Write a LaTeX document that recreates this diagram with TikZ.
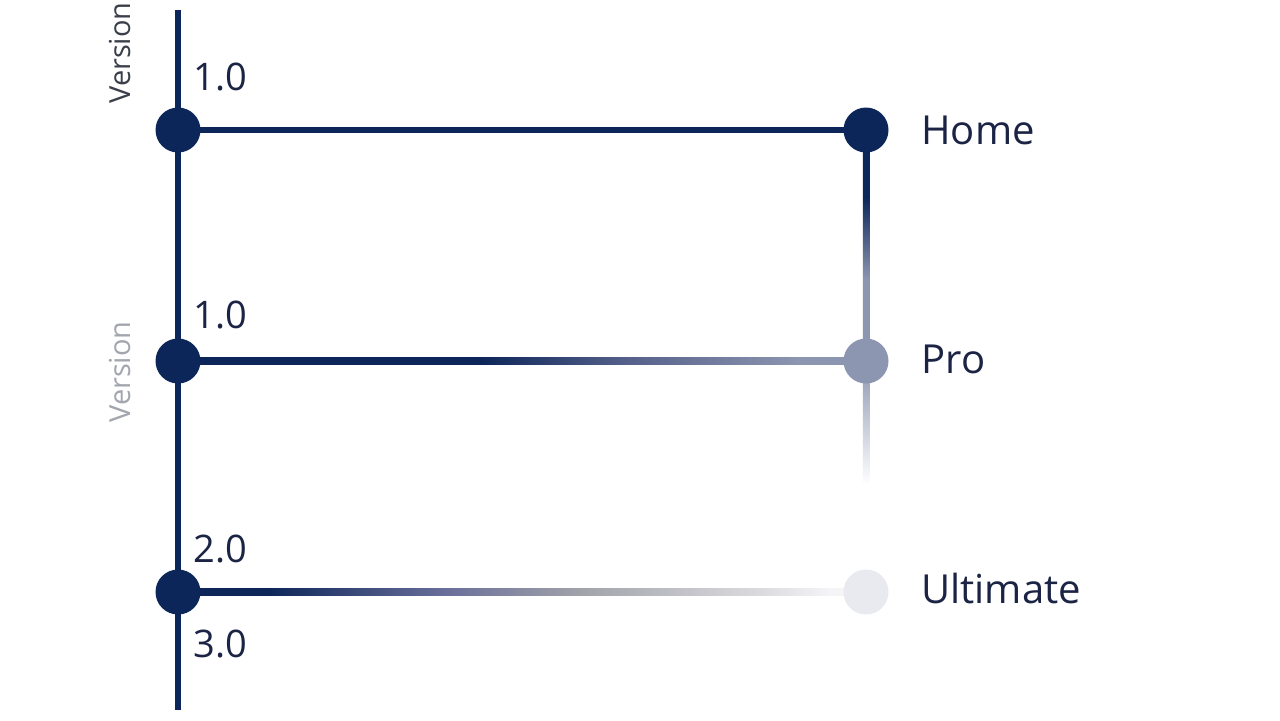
\documentclass[tikz,border=0pt]{standalone}
\usepackage{fontspec}
\setmainfont{Open Sans}
\usetikzlibrary{calc}
\definecolor{navy}{HTML}{0C2659}
\definecolor{progray}{HTML}{8C96B0}
\definecolor{promid}{HTML}{55608A}
\definecolor{ultA}{HTML}{6A6F9A}
\definecolor{ultB}{HTML}{A0A1A9}
\definecolor{ultC}{HTML}{DCDCE0}
\definecolor{ultD}{HTML}{F5F5F7}
\definecolor{ultgray}{HTML}{E8EAF0}
\definecolor{txt}{HTML}{1B2444}
\definecolor{verA}{HTML}{3A3F4A}
\definecolor{verB}{HTML}{A3A6AE}
% the path spans 25bp..75bp of each shading
\pgfdeclarehorizontalshading{hpro}{100bp}{color(0bp)=(navy); color(47bp)=(navy); color(57.5bp)=(promid); color(70bp)=(progray); color(100bp)=(progray)}
\pgfdeclarehorizontalshading{hult}{100bp}{color(0bp)=(navy); color(31.5bp)=(navy); color(44.5bp)=(ultA); color(54bp)=(ultB); color(67.5bp)=(ultC); color(72.5bp)=(ultD); color(100bp)=(white)}
\pgfdeclareverticalshading{vhp}{100bp}{color(0bp)=(progray); color(42.5bp)=(progray); color(60.5bp)=(navy); color(100bp)=(navy)}
\pgfdeclareverticalshading{vpw}{100bp}{color(0bp)=(white); color(28bp)=(white); color(75bp)=(progray); color(100bp)=(progray)}
\begin{document}
\begin{tikzpicture}[x=0.5pt,y=-0.5pt,
  dot/.style={circle,minimum size=22.5pt,inner sep=0pt},
  lbl/.style={inner sep=0pt,anchor=base west,text=txt,font=\fontsize{20pt}{24pt}\selectfont},
  num/.style={inner sep=0pt,anchor=base west,text=txt,font=\fontsize{19pt}{23pt}\selectfont},
  ver/.style={inner sep=0pt,rotate=90,font=\fontsize{14.5pt}{17pt}\selectfont},
  axis/.style={draw=navy,line width=3.25pt}]
\useasboundingbox (0,0) rectangle (1280,720);
\fill[white] (0,0) rectangle (1280,720);
\coordinate (top) at (178,10);
\coordinate (bot) at (178,710);
\coordinate (fadeend) at (866,492);
\node[dot] (l1) at (178,130) {};
\node[dot] (l2) at (178,361) {};
\node[dot] (l3) at (178,592) {};
\node[dot] (r1) at (866,130) {};
\node[dot] (r2) at (866,361) {};
\node[dot] (r3) at (866,592) {};
% lines
\draw[axis] (top) -- (bot);
\draw[axis] (l1.center) -- (r1.center);
\shade[shading=hpro] ($(l2.center)+(0,-3.25)$) rectangle ($(r2.center)+(0,3.25)$);
\shade[shading=hult] ($(l3.center)+(0,-3.25)$) rectangle ($(r3.center)+(0,3.25)$);
\shade[shading=vhp] ($(r1.center)+(-3.25,0)$) rectangle ($(r2.center)+(3.25,0)$);
\shade[shading=vpw] ($(r2.center)+(-3.25,0)$) rectangle ($(fadeend)+(3.25,0)$);
% dots
\fill[navy] (l1) circle[radius=22.5];
\fill[navy] (l2) circle[radius=22.5];
\fill[navy] (l3) circle[radius=22.5];
\fill[navy] (r1) circle[radius=22.5];
\fill[progray] (r2) circle[radius=22.5];
\fill[ultgray] (r3) circle[radius=22.5];
% labels
\node[lbl] (home) at (921,144) {Home};
\node[lbl] (pro) at (921,373) {Pro};
\node[lbl] (ult) at (921,603) {Ultimate};
\node[num] (n1) at (193,90) {1.0};
\node[num] (n2) at (193,328) {1.0};
\node[num] (n3) at (193,562) {2.0};
\node[num] (n4) at (193,657) {3.0};
\node[ver,text=verA] (v1) at (120,53) {Version};
\node[ver,text=verB] (v2) at (120,372) {Version};
\end{tikzpicture}
\end{document}
